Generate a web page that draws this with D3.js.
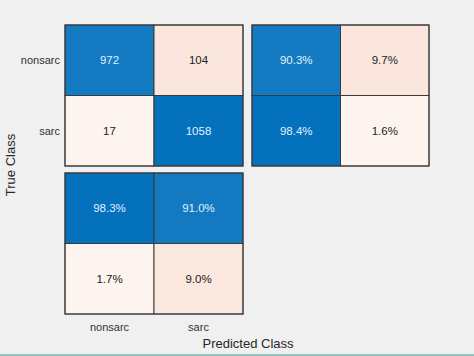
<!DOCTYPE html>
<html><head><meta charset="utf-8">
<script src="https://cdn.jsdelivr.net/npm/d3@7"></script>
<style>html,body{margin:0;padding:0;background:#f0f0f0;overflow:hidden}</style>
</head><body>
<svg id="c" width="474" height="356"></svg>
<script>
const classes = ["nonsarc", "sarc"];
const counts = [[972, 104], [17, 1058]];
const rowSummary = [[90.3, 9.7], [98.4, 1.6]];
const colSummary = [[98.3, 91.0], [1.7, 9.0]];
const xTitle = "Predicted Class";
const yTitle = "True Class";

const svg = d3.select("#c");
svg.append("rect").attr("width",474).attr("height",356).attr("fill","#f0f0f0");
svg.append("rect").attr("x",0).attr("y",354).attr("width",474).attr("height",2).attr("fill","#8fc5c5");

const font = "'Liberation Sans', Arial, Helvetica, sans-serif";
const blue = d3.scaleLinear().domain([0.8, 1]).range(["#2a88c9", "#006fbb"]).clamp(true);
const red = d3.scaleLinear().domain([0, 0.1]).range(["#fef7f4", "#fae5dc"]).clamp(true);

const x = d3.scaleBand().domain(classes).range([65, 243]).padding(0);
const y = d3.scaleBand().domain(classes).range([25, 166]).padding(0);
const xr = d3.scaleBand().domain([0,1]).range([252, 429]);
const yb = d3.scaleBand().domain([0,1]).range([173, 314]);

function drawCell(cx, cy, w, h, frac, diag, label){
  const fill = diag ? blue(frac) : red(frac);
  svg.append("rect").attr("x",cx).attr("y",cy).attr("width",w).attr("height",h)
    .attr("fill",fill).attr("stroke","#3a3a3a").attr("stroke-width",1);
  svg.append("text").attr("x",cx+w/2).attr("y",cy+h/2).attr("dy","0.36em")
    .attr("text-anchor","middle").attr("font-family",font).attr("font-size",11.5)
    .attr("fill", diag ? "#e0f0ff" : "#222").text(label);
}

const rowTot = counts.map(r => d3.sum(r));

counts.forEach((row, i) => row.forEach((v, j) => {
  drawCell(x(classes[j]), y(classes[i]), x.bandwidth(), y.bandwidth(), v/rowTot[i], i===j, String(v));
}));
rowSummary.forEach((row, i) => row.forEach((v, j) => {
  drawCell(xr(j), y(classes[i]), xr.bandwidth(), y.bandwidth(), v/100, j===0, v.toFixed(1)+"%");
}));
colSummary.forEach((row, i) => row.forEach((v, j) => {
  drawCell(x(classes[j]), yb(i), x.bandwidth(), yb.bandwidth(), v/100, i===0, v.toFixed(1)+"%");
}));

[[65,25,178,141],[252,25,177,141],[65,173,178,141]].forEach(b=>{
  svg.append("rect").attr("x",b[0]).attr("y",b[1]).attr("width",b[2]).attr("height",b[3])
    .attr("fill","none").attr("stroke","#3a3a3a").attr("stroke-width",1);
});

classes.forEach(c => {
  svg.append("text").attr("x",60).attr("y",y(c)+y.bandwidth()/2).attr("dy","0.36em")
    .attr("text-anchor","end").attr("font-family",font).attr("font-size",11).attr("fill","#333").text(c);
  svg.append("text").attr("x",x(c)+x.bandwidth()/2).attr("y",327).attr("dy","0.36em")
    .attr("text-anchor","middle").attr("font-family",font).attr("font-size",11).attr("fill","#333").text(c);
});
svg.append("text").attr("x",248).attr("y",348).attr("text-anchor","middle")
  .attr("font-family",font).attr("font-size",13).attr("fill","#262626").text(xTitle);
svg.append("text").attr("transform","translate(15,165) rotate(-90)").attr("text-anchor","middle")
  .attr("font-family",font).attr("font-size",13).attr("fill","#262626").text(yTitle);
</script>
</body></html>
